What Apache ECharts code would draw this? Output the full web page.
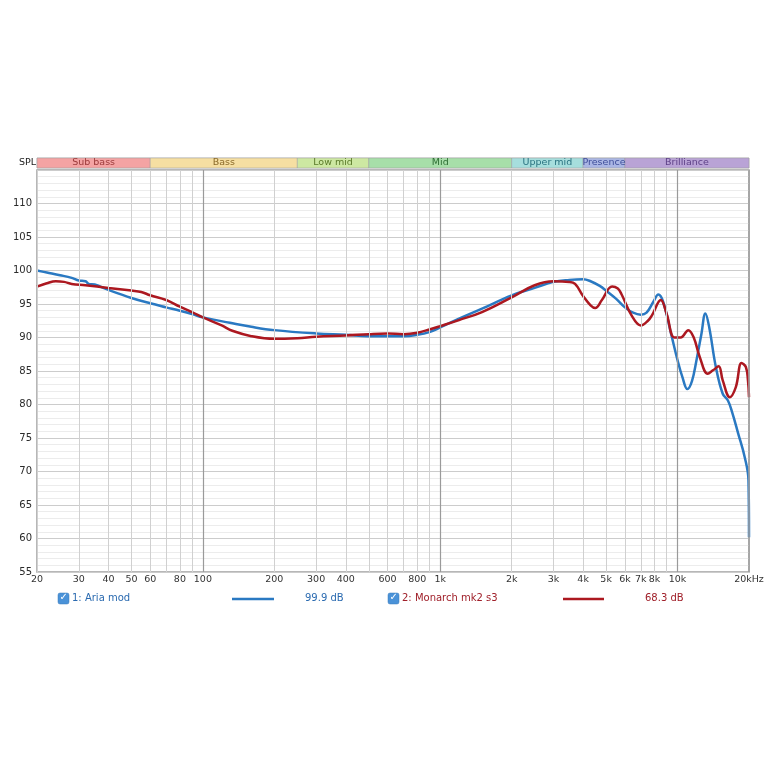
<!DOCTYPE html>
<html>
<head>
<meta charset="utf-8">
<script src="https://cdn.jsdelivr.net/npm/echarts@6/dist/echarts.min.js"></script>
<style>html,body{margin:0;padding:0;background:#fff}#c{width:768px;height:768px}</style>
</head>
<body>
<div id="c"></div>
<script>
// ---- data ----
const freqAria = [20,22,25,28,30,32,33,35,40,50,60,70,80,90,100,130,160,200,300,400,500,600,700,800,900,1000,1200,1500,2000,2500,3000,3500,4000,4300,4700,5000,5500,6000,6500,7000,7400,7900,8300,8700,9400,10000,10500,11000,11500,12000,12600,13100,13600,14500,15500,16300,17000,18000,19200,19900,20000];
const splAria  = [100.0,99.7,99.3,98.9,98.5,98.4,98.0,97.9,97.1,95.9,95.1,94.5,94.0,93.5,93.0,92.2,91.6,91.1,90.6,90.4,90.2,90.2,90.2,90.4,90.8,91.5,92.8,94.3,96.3,97.4,98.3,98.6,98.7,98.4,97.7,97.0,95.8,94.5,93.7,93.4,93.7,95.3,96.4,95.3,90.5,86.6,84.0,82.3,83.5,86.5,90.5,93.6,91.5,85.6,81.6,80.6,78.8,75.7,72.1,68.7,60.2];
const freqMonarch = [20,22,24,26,28,32,40,50,55,60,70,80,90,100,120,133,160,200,250,300,400,500,600,700,800,900,1000,1200,1500,2000,2500,3000,3500,3700,4000,4300,4500,4800,5300,5600,5800,6400,7000,7500,7800,8500,9000,9700,10300,11100,11700,12400,13400,14100,14900,15500,16600,17600,18600,19400,19800,20000];
const splMonarch  = [97.6,98.1,98.4,98.3,98.0,97.8,97.4,97.0,96.8,96.3,95.6,94.6,93.8,93.0,91.8,91.0,90.2,89.8,89.9,90.1,90.3,90.5,90.6,90.5,90.7,91.2,91.7,92.6,93.8,96.0,97.8,98.4,98.3,98.0,96.2,94.8,94.4,95.6,97.6,97.3,96.5,93.3,91.8,92.5,93.3,95.6,93.5,90.0,90.0,91.1,90.0,87.1,84.6,85.1,85.7,83.6,81.1,82.6,86.2,85.6,83.6,81.1];
const gridFreqs = [20,30,40,50,60,70,80,90,100,200,300,400,500,600,700,800,900,1000,2000,3000,4000,5000,6000,7000,8000,9000,10000,20000];
const tickLabels = {20:'20',30:'30',40:'40',50:'50',60:'60',80:'80',100:'100',200:'200',300:'300',400:'400',600:'600',800:'800',1000:'1k',2000:'2k',3000:'3k',4000:'4k',5000:'5k',6000:'6k',7000:'7k',8000:'8k',10000:'10k',20000:'20kHz'};
const bandNames = ['Sub bass','Bass','Low mid','Mid','Upper mid','Presence','Brilliance'];
const bandEdges = [20,60,250,500,2000,4000,6000,20000];
const bandFill = ['#f4a3a3','#f6dfa2','#cde8a2','#a7dfa9','#a6dedd','#aab6e4','#b9a3d6'];
const bandText = ['#9a3a3a','#8a6a2a','#5a7a2a','#2f6f35','#2a7280','#3f4f9a','#5f4288'];
const seriesNames = ['1: Aria mod','2: Monarch mk2 s3'];
const seriesDb = ['99.9 dB','68.3 dB'];
const colors = ['#2a79c2','#ac1820'];
const legendText = ['#2a6ab0','#a0202a'];

const FONT = 'DejaVu Sans';
const chart = echarts.init(document.getElementById('c'), null, {renderer:'canvas'});

const vLines = gridFreqs.map(f => {
  const dec = (f===100||f===1000||f===10000);
  return {
    xAxis: f,
    lineStyle: {color: dec ? '#9a9a9a' : (f===20000 ? '#a0a0a0' : '#d0d0d0'), width: dec ? 1.2 : (f===20000 ? 1.5 : 1), type:'solid'},
    label: {show: tickLabels[f] !== undefined, formatter: tickLabels[f] || '', position:'start', distance: 3,
            color:'#333', fontSize: 9.5, fontFamily: FONT}
  };
});

const bandAreas = bandNames.map((n,i) => [
  {xAxis: bandEdges[i], name: n, itemStyle:{color: bandFill[i], borderColor:'#9a9a9a', borderWidth:0.5},
   label:{show:true, position:'inside', color: bandText[i], fontSize:9.5, fontFamily: FONT}},
  {xAxis: bandEdges[i+1]}
]);

const legendGraphics = [];
const legX = [[58,72,232,274,305],[388,402,563,604,645]];
seriesNames.forEach((n,i)=>{
  const [cx,tx,l1,l2,dx] = legX[i];
  legendGraphics.push({type:'rect', shape:{x:cx,y:593,width:11,height:11,r:2}, style:{fill:'#4a92d8', stroke:'#3a78b8', lineWidth:0.5}, z:100});
  legendGraphics.push({type:'text', x:cx+1.5, y:592.5, style:{text:'✓', fill:'#fff', font:'bold 10px "DejaVu Sans"'}, z:101});
  legendGraphics.push({type:'text', x:tx, y:593, style:{text:n, fill:legendText[i], font:'10px "DejaVu Sans"'}, z:100});
  legendGraphics.push({type:'line', shape:{x1:l1,y1:599,x2:l2,y2:599}, style:{stroke:colors[i], lineWidth:2.5}, z:100});
  legendGraphics.push({type:'text', x:dx, y:593, style:{text:seriesDb[i], fill:legendText[i], font:'10px "DejaVu Sans"'}, z:100});
});
legendGraphics.push({type:'text', x:19, y:158, style:{text:'SPL', fill:'#222', font:'9.5px "DejaVu Sans"'}});

chart.setOption({
  animation: false,
  backgroundColor: '#fff',
  textStyle: {fontFamily: FONT},
  grid: [
    {left:37, right:19, top:170, bottom:196, show:true, borderColor:'#a0a0a0', borderWidth:1.5, backgroundColor:'#fff'},
    {left:37, right:19, top:158, height:10, show:true, borderColor:'#9a9a9a', borderWidth:0.5}
  ],
  xAxis: [
    {type:'log', logBase:10, min:20, max:20000, gridIndex:0, axisLine:{show:false}, axisTick:{show:false}, axisLabel:{show:false}, splitLine:{show:false}},
    {type:'log', logBase:10, min:20, max:20000, gridIndex:1, show:false, splitLine:{show:false}}
  ],
  yAxis: [
    {type:'value', min:55, max:115, interval:5, gridIndex:0,
     axisLine:{show:false}, axisTick:{show:false},
     axisLabel:{color:'#2a2a2a', fontSize:10, fontFamily:FONT, margin:5, formatter: v => v===115 ? '' : String(v)},
     splitLine:{show:true, lineStyle:{color:'#cccccc', width:1}},
     minorTick:{show:false, splitNumber:5},
     minorSplitLine:{show:true, lineStyle:{color:'#ececec', width:1}}},
    {type:'value', min:0, max:1, gridIndex:1, show:false, splitLine:{show:false}}
  ],
  graphic: legendGraphics,
  series: [
    {type:'line', xAxisIndex:0, yAxisIndex:0, data:[], silent:true,
     markLine:{silent:true, symbol:['none','none'], animation:false, data: vLines}, z:1},
    {type:'line', xAxisIndex:1, yAxisIndex:1, data:[], silent:true,
     markArea:{silent:true, data: bandAreas}},
    {name: seriesNames[0], type:'line', xAxisIndex:0, yAxisIndex:0, showSymbol:false, smooth:0.4,
     data: freqAria.map((f,i)=>[f, splAria[i]]), lineStyle:{color:colors[0], width:2.5}, itemStyle:{color:colors[0]}, z:3},
    {name: seriesNames[1], type:'line', xAxisIndex:0, yAxisIndex:0, showSymbol:false, smooth:0.4,
     data: freqMonarch.map((f,i)=>[f, splMonarch[i]]), lineStyle:{color:colors[1], width:2.5}, itemStyle:{color:colors[1]}, z:4}
  ]
});
</script>
</body>
</html>
